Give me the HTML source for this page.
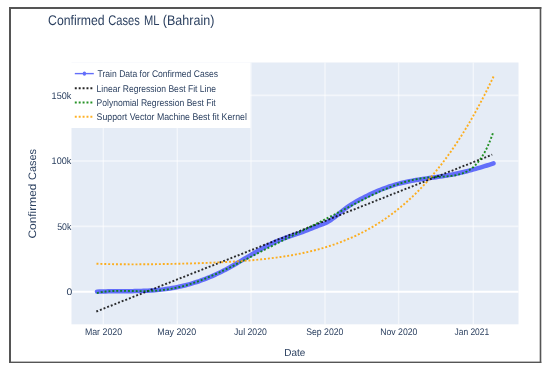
<!DOCTYPE html>
<html><head><meta charset="utf-8"><style>
html,body{margin:0;padding:0;background:#fff;width:550px;height:370px;overflow:hidden}
svg{display:block}
text{font-family:'Liberation Sans', 'DejaVu Sans', sans-serif;fill:#2a3f5f;text-rendering:geometricPrecision;stroke:none}
text.t{fill-opacity:1}
</style></head><body>
<svg width="550" height="370" viewBox="0 0 550 370">
<rect x="0" y="0" width="550" height="370" fill="#fff"/>
<rect x="71.5" y="62.5" width="447.0" height="261.8" fill="#e5ecf6"/>
<line x1="103.3" y1="62.5" x2="103.3" y2="324.3" stroke="#fff" stroke-width="1.4" stroke-opacity="0.55"/><line x1="177.3" y1="62.5" x2="177.3" y2="324.3" stroke="#fff" stroke-width="1.4" stroke-opacity="0.55"/><line x1="251.0" y1="62.5" x2="251.0" y2="324.3" stroke="#fff" stroke-width="1.4" stroke-opacity="0.55"/><line x1="325.0" y1="62.5" x2="325.0" y2="324.3" stroke="#fff" stroke-width="1.4" stroke-opacity="0.55"/><line x1="398.6" y1="62.5" x2="398.6" y2="324.3" stroke="#fff" stroke-width="1.4" stroke-opacity="0.55"/><line x1="473.3" y1="62.5" x2="473.3" y2="324.3" stroke="#fff" stroke-width="1.4" stroke-opacity="0.55"/><line x1="71.5" y1="95.4" x2="518.5" y2="95.4" stroke="#fff" stroke-width="1.6" stroke-opacity="0.55"/><line x1="71.5" y1="161.0" x2="518.5" y2="161.0" stroke="#fff" stroke-width="1.6" stroke-opacity="0.55"/><line x1="71.5" y1="226.4" x2="518.5" y2="226.4" stroke="#fff" stroke-width="1.6" stroke-opacity="0.55"/><line x1="71.5" y1="291.7" x2="518.5" y2="291.7" stroke="#fff" stroke-width="2"/>
<g fill="none">
<path d="M97.00,291.66 L99.22,291.57 L101.43,291.50 L103.65,291.44 L105.86,291.39 L108.08,291.35 L110.29,291.32 L112.51,291.29 L114.72,291.27 L116.94,291.25 L119.15,291.24 L121.37,291.23 L123.58,291.21 L125.80,291.20 L128.01,291.18 L130.23,291.16 L132.44,291.13 L134.66,291.10 L136.87,291.05 L139.09,291.00 L141.30,290.94 L143.52,290.86 L145.73,290.77 L147.95,290.66 L150.16,290.54 L152.38,290.40 L154.59,290.24 L156.81,290.06 L159.02,289.85 L161.24,289.63 L163.45,289.37 L165.67,289.10 L167.88,288.79 L170.10,288.45 L172.31,288.09 L174.53,287.69 L176.74,287.27 L178.96,286.81 L181.17,286.32 L183.39,285.80 L185.60,285.25 L187.82,284.66 L190.03,284.05 L192.25,283.40 L194.46,282.72 L196.68,282.00 L198.89,281.26 L201.11,280.48 L203.32,279.66 L205.54,278.82 L207.75,277.93 L209.97,277.02 L212.18,276.07 L214.40,275.09 L216.61,274.07 L218.83,273.02 L221.04,271.93 L223.26,270.81 L225.47,269.65 L227.69,268.46 L229.91,267.24 L232.12,266.00 L234.34,264.73 L236.55,263.44 L238.77,262.15 L240.98,260.84 L243.20,259.52 L245.41,258.20 L247.63,256.88 L249.84,255.56 L252.06,254.25 L254.27,252.95 L256.49,251.67 L258.70,250.41 L260.92,249.17 L263.13,247.95 L265.35,246.77 L267.56,245.61 L269.78,244.50 L271.99,243.43 L274.21,242.40 L276.42,241.41 L278.64,240.48 L280.85,239.61 L283.07,238.77 L285.28,237.97 L287.50,237.19 L289.71,236.44 L291.93,235.69 L294.14,234.95 L296.36,234.20 L298.57,233.44 L300.79,232.65 L303.00,231.84 L305.22,230.98 L307.43,230.10 L309.65,229.21 L311.86,228.30 L314.08,227.41 L316.29,226.54 L318.51,225.70 L320.72,224.91 L322.94,224.11 L325.15,223.21 L327.37,222.12 L329.58,220.81 L331.80,219.31 L334.01,217.68 L336.23,215.94 L338.44,214.15 L340.66,212.32 L342.87,210.52 L345.09,208.78 L347.30,207.15 L349.52,205.62 L351.73,204.18 L353.95,202.83 L356.16,201.53 L358.38,200.29 L360.59,199.09 L362.81,197.93 L365.03,196.79 L367.24,195.69 L369.46,194.62 L371.67,193.58 L373.89,192.57 L376.10,191.60 L378.32,190.67 L380.53,189.76 L382.75,188.89 L384.96,188.06 L387.18,187.26 L389.39,186.50 L391.61,185.78 L393.82,185.09 L396.04,184.44 L398.25,183.82 L400.47,183.25 L402.68,182.71 L404.90,182.20 L407.11,181.73 L409.33,181.28 L411.54,180.86 L413.76,180.46 L415.97,180.09 L418.19,179.73 L420.40,179.38 L422.62,179.05 L424.83,178.73 L427.05,178.41 L429.26,178.10 L431.48,177.79 L433.69,177.49 L435.91,177.17 L438.12,176.85 L440.34,176.53 L442.55,176.19 L444.77,175.84 L446.98,175.47 L449.20,175.08 L451.41,174.67 L453.63,174.24 L455.84,173.79 L458.06,173.31 L460.27,172.82 L462.49,172.30 L464.70,171.77 L466.92,171.21 L469.13,170.64 L471.35,170.05 L473.56,169.45 L475.78,168.83 L477.99,168.19 L480.21,167.54 L482.42,166.87 L484.64,166.19 L486.85,165.49 L489.07,164.78 L491.28,164.07 L493.50,163.33" stroke="#636efa" stroke-width="4.5" stroke-linecap="round" stroke-linejoin="round"/>
<path d="M96.3,311.5 L492.2,154.7" stroke="#000" stroke-opacity="0.82" stroke-width="1.9" stroke-dasharray="1.95,1.95"/>
<path d="M96.90,293.07 L99.12,292.58 L101.33,292.17 L103.55,291.82 L105.76,291.54 L107.98,291.31 L110.19,291.14 L112.41,291.01 L114.62,290.92 L116.84,290.86 L119.05,290.83 L121.27,290.83 L123.48,290.85 L125.70,290.88 L127.91,290.91 L130.13,290.96 L132.34,291.00 L134.56,291.04 L136.77,291.08 L138.99,291.10 L141.20,291.11 L143.42,291.11 L145.63,291.08 L147.85,291.03 L150.06,290.96 L152.28,290.87 L154.49,290.74 L156.71,290.59 L158.92,290.40 L161.14,290.18 L163.35,289.93 L165.57,289.64 L167.78,289.32 L170.00,288.96 L172.21,288.56 L174.43,288.13 L176.64,287.67 L178.86,287.16 L181.07,286.62 L183.29,286.05 L185.50,285.44 L187.72,284.80 L189.93,284.12 L192.15,283.41 L194.36,282.67 L196.58,281.90 L198.79,281.10 L201.01,280.27 L203.22,279.41 L205.44,278.53 L207.65,277.62 L209.87,276.69 L212.08,275.74 L214.30,274.76 L216.51,273.77 L218.73,272.76 L220.94,271.73 L223.16,270.68 L225.37,269.63 L227.59,268.56 L229.81,267.48 L232.02,266.38 L234.24,265.28 L236.45,264.17 L238.67,263.06 L240.88,261.94 L243.10,260.81 L245.31,259.68 L247.53,258.55 L249.74,257.41 L251.96,256.27 L254.17,255.14 L256.39,254.00 L258.60,252.86 L260.82,251.72 L263.03,250.59 L265.25,249.46 L267.46,248.32 L269.68,247.19 L271.89,246.07 L274.11,244.94 L276.32,243.82 L278.54,242.70 L280.75,241.58 L282.97,240.47 L285.18,239.35 L287.40,238.24 L289.61,237.13 L291.83,236.02 L294.04,234.91 L296.26,233.81 L298.47,232.70 L300.69,231.59 L302.90,230.48 L305.12,229.38 L307.33,228.27 L309.55,227.15 L311.76,226.04 L313.98,224.93 L316.19,223.81 L318.41,222.69 L320.62,221.56 L322.84,220.44 L325.05,219.31 L327.27,218.17 L329.48,217.04 L331.70,215.90 L333.91,214.75 L336.13,213.61 L338.34,212.46 L340.56,211.31 L342.77,210.15 L344.99,209.00 L347.20,207.85 L349.42,206.69 L351.63,205.54 L353.85,204.39 L356.06,203.24 L358.28,202.10 L360.49,200.97 L362.71,199.84 L364.93,198.71 L367.14,197.60 L369.36,196.50 L371.57,195.42 L373.79,194.35 L376.00,193.29 L378.22,192.26 L380.43,191.24 L382.65,190.25 L384.86,189.28 L387.08,188.34 L389.29,187.43 L391.51,186.55 L393.72,185.70 L395.94,184.88 L398.15,184.10 L400.37,183.36 L402.58,182.66 L404.80,182.00 L407.01,181.38 L409.23,180.80 L411.44,180.27 L413.66,179.78 L415.87,179.33 L418.09,178.92 L420.30,178.56 L422.52,178.24 L424.73,177.95 L426.95,177.70 L429.16,177.49 L431.38,177.30 L433.59,177.14 L435.81,177.00 L438.02,176.87 L440.24,176.75 L442.45,176.62 L444.67,176.48 L446.88,176.33 L449.10,176.13 L451.31,175.90 L453.53,175.60 L455.74,175.22 L457.96,174.75 L460.17,174.16 L462.39,173.44 L464.60,172.56 L466.82,171.49 L469.03,170.22 L471.25,168.70 L473.46,166.91 L475.68,164.81 L477.89,162.36 L480.11,159.53 L482.32,156.27 L484.54,152.53 L486.75,148.27 L488.97,143.43 L491.18,137.95 L493.40,131.78" stroke="#008000" stroke-opacity="0.85" stroke-width="1.9" stroke-dasharray="1.95,1.95"/>
<path d="M96.50,263.74 L98.72,263.82 L100.94,263.89 L103.16,263.96 L105.38,264.02 L107.59,264.07 L109.81,264.12 L112.03,264.16 L114.25,264.20 L116.47,264.23 L118.69,264.26 L120.91,264.28 L123.13,264.30 L125.35,264.31 L127.57,264.32 L129.78,264.33 L132.00,264.33 L134.22,264.33 L136.44,264.33 L138.66,264.32 L140.88,264.31 L143.10,264.30 L145.32,264.29 L147.54,264.27 L149.76,264.25 L151.97,264.22 L154.19,264.20 L156.41,264.17 L158.63,264.14 L160.85,264.10 L163.07,264.07 L165.29,264.03 L167.51,263.99 L169.73,263.95 L171.95,263.90 L174.16,263.86 L176.38,263.81 L178.60,263.76 L180.82,263.71 L183.04,263.65 L185.26,263.59 L187.48,263.53 L189.70,263.47 L191.92,263.41 L194.14,263.34 L196.35,263.27 L198.57,263.20 L200.79,263.12 L203.01,263.04 L205.23,262.96 L207.45,262.88 L209.67,262.79 L211.89,262.70 L214.11,262.60 L216.33,262.50 L218.54,262.40 L220.76,262.29 L222.98,262.18 L225.20,262.07 L227.42,261.95 L229.64,261.82 L231.86,261.69 L234.08,261.55 L236.30,261.41 L238.52,261.27 L240.73,261.11 L242.95,260.95 L245.17,260.79 L247.39,260.61 L249.61,260.43 L251.83,260.25 L254.05,260.05 L256.27,259.85 L258.49,259.63 L260.71,259.41 L262.92,259.18 L265.14,258.94 L267.36,258.69 L269.58,258.43 L271.80,258.16 L274.02,257.88 L276.24,257.59 L278.46,257.29 L280.68,256.97 L282.90,256.64 L285.11,256.30 L287.33,255.95 L289.55,255.58 L291.77,255.19 L293.99,254.80 L296.21,254.38 L298.43,253.95 L300.65,253.51 L302.87,253.05 L305.09,252.57 L307.30,252.07 L309.52,251.56 L311.74,251.03 L313.96,250.47 L316.18,249.90 L318.40,249.31 L320.62,248.69 L322.84,248.06 L325.06,247.40 L327.28,246.72 L329.49,246.02 L331.71,245.29 L333.93,244.54 L336.15,243.76 L338.37,242.96 L340.59,242.13 L342.81,241.28 L345.03,240.39 L347.25,239.48 L349.47,238.54 L351.68,237.57 L353.90,236.57 L356.12,235.54 L358.34,234.48 L360.56,233.38 L362.78,232.25 L365.00,231.09 L367.22,229.89 L369.44,228.66 L371.66,227.39 L373.87,226.09 L376.09,224.74 L378.31,223.36 L380.53,221.94 L382.75,220.48 L384.97,218.98 L387.19,217.43 L389.41,215.85 L391.63,214.22 L393.85,212.54 L396.06,210.82 L398.28,209.06 L400.50,207.25 L402.72,205.39 L404.94,203.48 L407.16,201.52 L409.38,199.52 L411.60,197.46 L413.82,195.35 L416.04,193.18 L418.25,190.97 L420.47,188.69 L422.69,186.37 L424.91,183.98 L427.13,181.54 L429.35,179.03 L431.57,176.47 L433.79,173.85 L436.01,171.17 L438.23,168.42 L440.44,165.61 L442.66,162.73 L444.88,159.79 L447.10,156.78 L449.32,153.70 L451.54,150.56 L453.76,147.34 L455.98,144.06 L458.20,140.70 L460.42,137.26 L462.63,133.76 L464.85,130.17 L467.07,126.52 L469.29,122.78 L471.51,118.96 L473.73,115.07 L475.95,111.09 L478.17,107.03 L480.39,102.88 L482.61,98.66 L484.82,94.34 L487.04,89.94 L489.26,85.45 L491.48,80.87 L493.70,76.20" stroke="#ffa500" stroke-opacity="0.88" stroke-width="1.9" stroke-dasharray="1.95,1.95"/>
</g>
<g fill="none"><rect x="70" y="62.5" width="180.5" height="65.5" fill="#fff"/><path d="M74.8,73.6 h19" stroke="#636efa" stroke-width="1.4"/><ellipse cx="84.4" cy="73.6" rx="1.7" ry="2.2" fill="#636efa"/><path d="M74.8,88.2 h19.2" stroke="#000" stroke-opacity="0.85" stroke-width="1.9" stroke-dasharray="1.95,1.95"/><path d="M74.8,102.5 h19.2" stroke="#008000" stroke-opacity="0.85" stroke-width="1.9" stroke-dasharray="1.95,1.95"/><path d="M74.8,116.8 h19.2" stroke="#ffa500" stroke-opacity="0.85" stroke-width="1.9" stroke-dasharray="1.95,1.95"/></g>
<text class="t" x="48.10" y="25.0" font-size="14.0" textLength="56.47" lengthAdjust="spacingAndGlyphs">Confirmed</text><text class="t" x="108.20" y="25.0" font-size="14.0" textLength="31.54" lengthAdjust="spacingAndGlyphs">Cases</text><text class="t" x="144.10" y="25.0" font-size="14.0" textLength="15.47" lengthAdjust="spacingAndGlyphs">ML</text><text class="t" x="162.80" y="25.0" font-size="14.0" textLength="51.52" lengthAdjust="spacingAndGlyphs">(Bahrain)</text><text x="97.60" y="77.3" font-size="9.7" textLength="120.37" lengthAdjust="spacingAndGlyphs">Train Data for Confirmed Cases</text><text x="96.60" y="91.6" font-size="9.7" textLength="119.39" lengthAdjust="spacingAndGlyphs">Linear Regression Best Fit Line</text><text x="96.60" y="105.9" font-size="9.7" textLength="119.11" lengthAdjust="spacingAndGlyphs">Polynomial Regression Best Fit</text><text x="96.60" y="120.2" font-size="9.7" textLength="150.27" lengthAdjust="spacingAndGlyphs">Support Vector Machine Best fit Kernel</text><text x="51.60" y="98.8" font-size="9.6" textLength="19.70" lengthAdjust="spacingAndGlyphs">150k</text><text x="51.60" y="164.1" font-size="9.6" textLength="19.68" lengthAdjust="spacingAndGlyphs">100k</text><text x="57.20" y="229.7" font-size="9.6" textLength="14.18" lengthAdjust="spacingAndGlyphs">50k</text><text x="66.50" y="295.0" font-size="9.6" textLength="5.77" lengthAdjust="spacingAndGlyphs">0</text><text x="84.90" y="335.0" font-size="9.6" textLength="37.18" lengthAdjust="spacingAndGlyphs">Mar 2020</text><text x="157.30" y="335.0" font-size="9.6" textLength="38.83" lengthAdjust="spacingAndGlyphs">May 2020</text><text x="234.00" y="335.0" font-size="9.6" textLength="32.83" lengthAdjust="spacingAndGlyphs">Jul 2020</text><text x="306.20" y="335.0" font-size="9.6" textLength="37.26" lengthAdjust="spacingAndGlyphs">Sep 2020</text><text x="380.20" y="335.0" font-size="9.6" textLength="37.26" lengthAdjust="spacingAndGlyphs">Nov 2020</text><text x="454.50" y="335.0" font-size="9.6" textLength="34.66" lengthAdjust="spacingAndGlyphs">Jan 2021</text><text x="284.20" y="355.6" font-size="10.3" textLength="21.05" lengthAdjust="spacingAndGlyphs">Date</text><text transform="translate(36.2,238.60) rotate(-90)" font-size="10.8" textLength="55.02" lengthAdjust="spacingAndGlyphs">Confirmed</text><text transform="translate(36.2,180.00) rotate(-90)" font-size="10.8" textLength="31.07" lengthAdjust="spacingAndGlyphs">Cases</text>
<g fill="#555"><rect x="9" y="7" width="532.3" height="2"/><rect x="9" y="7" width="2" height="356"/><rect x="539.7" y="7" width="1.6" height="356"/><rect x="9" y="361.6" width="532.3" height="1.4"/></g>
</svg>
</body></html>
